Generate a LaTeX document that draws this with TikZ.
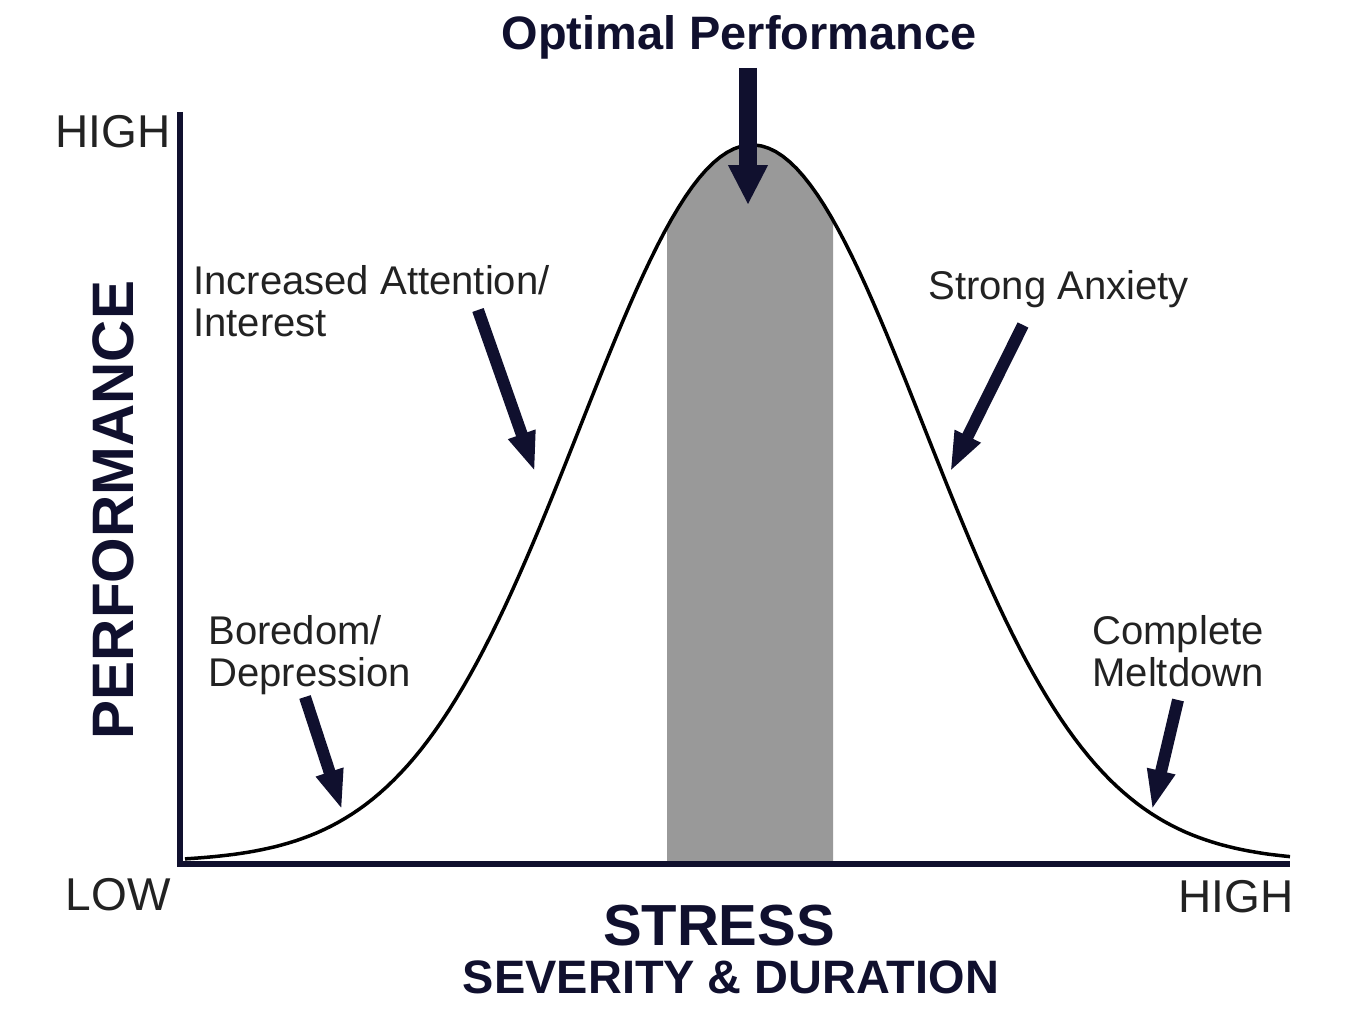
\documentclass[tikz,border=0pt]{standalone}
\usepackage{fontspec}
\setmainfont{Liberation Sans}
\usetikzlibrary{arrows.meta,positioning}
\definecolor{inkblue}{RGB}{16,16,46}
\definecolor{labelgray}{RGB}{34,34,34}
\definecolor{bandgray}{RGB}{153,153,153}

\begin{document}
\begin{tikzpicture}[x=0.02cm,y=-0.02cm,
    declare function={perf(\t)=862-717*exp(-0.5*((\t-752)/172)^2);},
    note/.style={font=\fontsize{22.8}{23.9}\selectfont,text=labelgray,inner sep=0pt,align=left},
    ticklabel/.style={font=\fontsize{26.2}{28}\selectfont,text=labelgray,inner sep=0pt},
    heading/.style={font=\bfseries\fontsize{26.7}{28}\selectfont,text=inkblue,inner sep=0pt},
    bigarrow/.style={draw=inkblue,line width=0.24cm,-{Triangle[length=0.8cm,width=0.52cm]}},
    axis/.style={draw=inkblue,line width=0.11cm}]

    \useasboundingbox (0,0) rectangle (1360,1020);

    % optimal band and curve
    \fill[bandgray] plot[domain=667:833,samples=40] (\x,{perf(\x)}) -- (833,862) -- (667,862) -- cycle;
    \draw[line width=0.07cm,black] plot[domain=185:1290,samples=160] (\x,{perf(\x)});

    % axes
    \coordinate (ORIGIN) at (180,864);
    \coordinate (YTOP) at (180,112);
    \coordinate (XEND) at (1290,864);
    \draw[axis] (YTOP) -- (ORIGIN) -- (XEND);

    \node[ticklabel,anchor=base east] (YHIGH) at (171,148) {HIGH};
    \node[ticklabel,anchor=base east] (XLOW) at (171,910) {LOW};
    \node[ticklabel,anchor=base east] (XHIGH) at (1294,912) {HIGH};

    \node[heading,font=\bfseries\fontsize{33}{35}\selectfont,anchor=base] (STRESS) at (719,945) {STRESS};
    \node[heading,anchor=base] (SEVERITY) at (731,993) {SEVERITY \& DURATION};
    \node[heading,font=\bfseries\fontsize{33.3}{35}\selectfont,rotate=90] (PERF) at (113,510) {PERFORMANCE};

    % labels along the curve
    \node[heading,anchor=base] (OPTIMAL) at (739,50) {Optimal Performance};
    \node[note,anchor=north west] (ATTENTION) at (193,265) {Increased Attention/\\Interest};
    \node[note,anchor=north west] (BOREDOM) at (208,615) {Boredom/\\Depression};
    \node[note,anchor=base west] (ANXIETY) at (928,300) {Strong Anxiety};
    \node[note,anchor=north west] (MELTDOWN) at (1092,615) {Complete\\Meltdown};

    % arrows
    \coordinate (OPTs) at (748,68);   \coordinate (OPTt) at (748,205);
    \coordinate (ATTs) at (478,310);  \coordinate (ATTt) at (535,472);
    \coordinate (BORs) at (305,697);  \coordinate (BORt) at (342,810);
    \coordinate (ANXs) at (1023,325); \coordinate (ANXt) at (950,472);
    \coordinate (MELs) at (1178,700); \coordinate (MELt) at (1152,810);

    \path[bigarrow,line width=0.36cm,-{Triangle[length=0.8cm,width=0.74cm]}] (OPTs) -- (OPTt);
    \foreach \a in {ATT,BOR,ANX,MEL} {
      \path[bigarrow] (\a s) -- (\a t);
    }
  \end{tikzpicture}
\end{document}
